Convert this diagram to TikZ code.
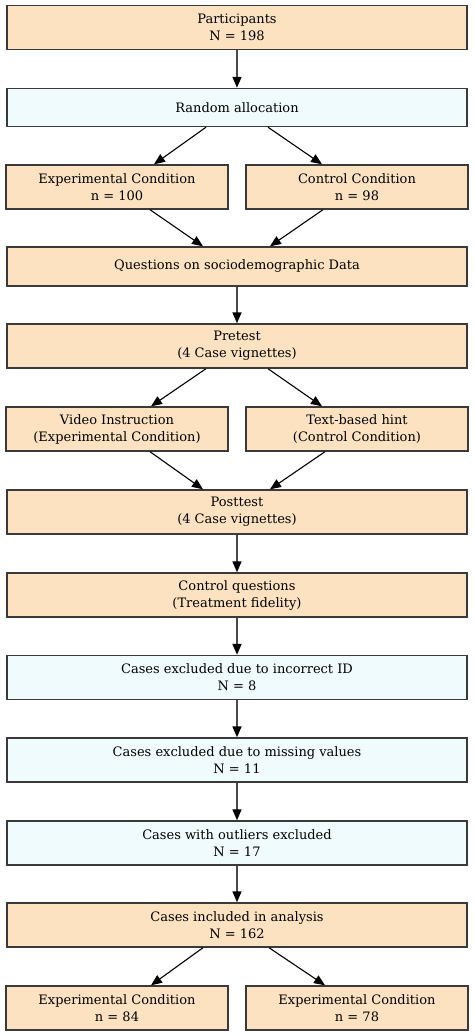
\documentclass[tikz,border=0pt]{standalone}
\usepackage{fontspec}
\setmainfont{DejaVu Serif}
\usetikzlibrary{arrows.meta,calc}
\definecolor{peach}{HTML}{FDE2C2}
\definecolor{pale}{HTML}{EFFBFD}
\definecolor{edgec}{HTML}{3A3A3A}
\definecolor{vline}{HTML}{4A4A4A}
\begin{document}
\begin{tikzpicture}[x=1pt,y=-1pt,
  box/.style={draw=edgec, line width=1.4pt, align=center, inner sep=0pt,
    font=\fontsize{13}{17}\selectfont, minimum height=44pt},
  wide/.style={box, minimum width=460pt},
  half/.style={box, minimum width=222pt},
  orange/.style={fill=peach},
  blue/.style={fill=pale},
  arr/.style={line width=1.1pt, -{Triangle[length=11pt,width=9pt]}},
  varr/.style={arr, line width=1.5pt, draw=vline, -{Triangle[length=11pt,width=9pt,fill=black,color=black]}}
]
\useasboundingbox (0,0) rectangle (474,1036);

\node[wide, orange] (part) at (237,27.5) {Participants\\N = 198};
\node[wide, blue, minimum height=38pt] (rand) at (237,107.5) {Random allocation};
\node[half, orange] (exp) at (117,187) {Experimental Condition\\n = 100};
\node[half, orange] (ctrl) at (357,187) {Control Condition\\n = 98};
\node[wide, orange, minimum height=39pt] (ques) at (237,266.5) {Questions on sociodemographic Data};
\node[wide, orange] (pre) at (237,346) {Pretest\\(4 Case vignettes)};
\node[half, orange] (vid) at (117,429) {Video Instruction\\(Experimental Condition)};
\node[half, orange] (txt) at (357,429) {Text-based hint\\(Control Condition)};
\node[wide, orange] (post) at (237,512) {Posttest\\(4 Case vignettes)};
\node[wide, orange] (cq) at (237,595) {Control questions\\(Treatment fidelity)};
\node[wide, blue] (inc) at (237,677.5) {Cases excluded due to incorrect ID\\N = 8};
\node[wide, blue] (miss) at (237,760) {Cases excluded due to missing values\\N = 11};
\node[wide, blue] (outl) at (237,843) {Cases with outliers excluded\\N = 17};
\node[wide, orange] (incl) at (237,925) {Cases included in analysis\\N = 162};
\node[half, orange] (lexp) at (117,1008) {Experimental Condition\\n = 84};
\node[half, orange] (rexp) at (357,1008) {Experimental Condition\\n = 78};

\draw[varr] (part) -- (rand);
\draw[arr] ($(rand.south)+(-31,0)$) -- ($(exp.north)+(37,0)$);
\draw[arr] ($(rand.south)+(31,0)$) -- ($(ctrl.north)+(-35,0)$);
\draw[arr] ($(exp.south)+(33,0)$) -- ($(ques.north)+(-34,0)$);
\draw[arr] ($(ctrl.south)+(-34,0)$) -- ($(ques.north)+(33,0)$);
\draw[varr] (ques) -- (pre);
\draw[arr] ($(pre.south)+(-31,0)$) -- ($(vid.north)+(34,0)$);
\draw[arr] ($(pre.south)+(31,0)$) -- ($(txt.north)+(-35,0)$);
\draw[arr] ($(vid.south)+(33,0)$) -- ($(post.north)+(-34,0)$);
\draw[arr] ($(txt.south)+(-32,0)$) -- ($(post.north)+(33,0)$);
\draw[varr] (post) -- (cq);
\draw[varr] (cq) -- (inc);
\draw[varr] (inc) -- (miss);
\draw[varr] (miss) -- (outl);
\draw[varr] (outl) -- (incl);
\draw[arr] ($(incl.south)+(-34,0)$) -- ($(lexp.north)+(34,0)$);
\draw[arr] ($(incl.south)+(32,0)$) -- ($(rexp.north)+(-32,0)$);
\end{tikzpicture}
\end{document}
